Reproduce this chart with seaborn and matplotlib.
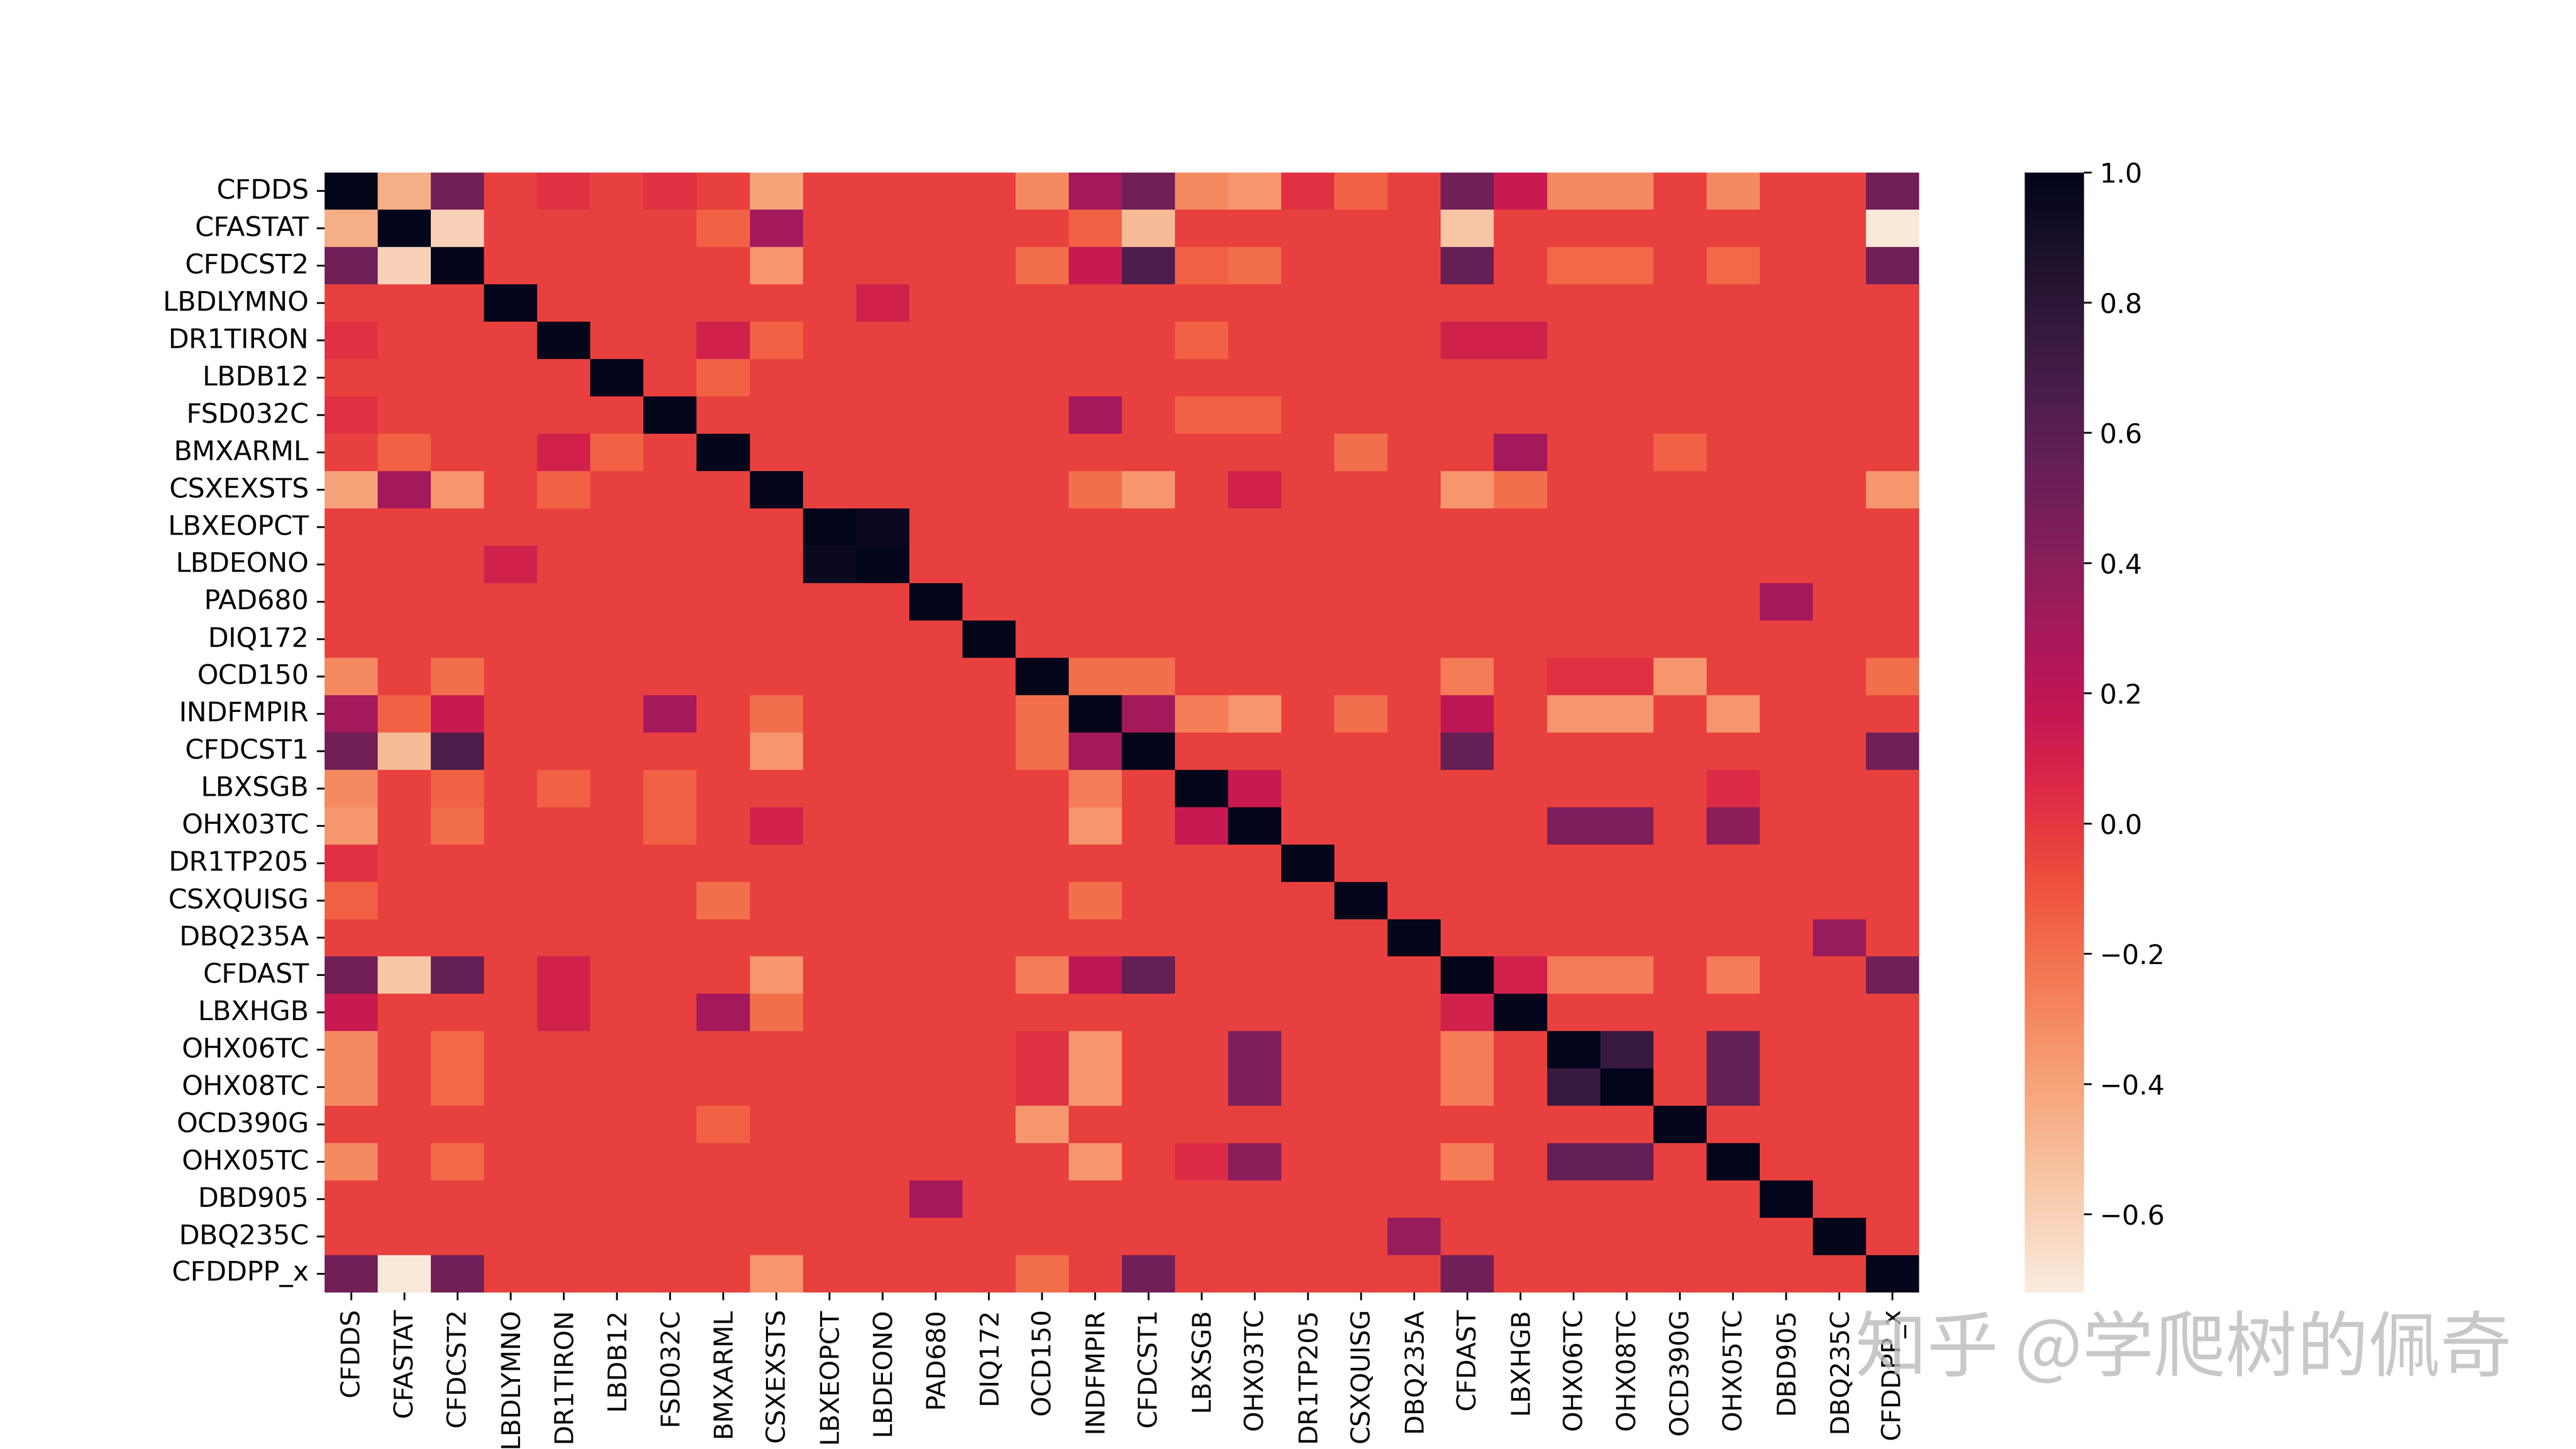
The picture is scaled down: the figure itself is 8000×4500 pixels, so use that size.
import numpy as np
import pandas as pd
import matplotlib
matplotlib.use("Agg")
import matplotlib.pyplot as plt
import seaborn as sns

labels = ["CFDDS","CFASTAT","CFDCST2","LBDLYMNO","DR1TIRON","LBDB12","FSD032C","BMXARML",
          "CSXEXSTS","LBXEOPCT","LBDEONO","PAD680","DIQ172","OCD150","INDFMPIR","CFDCST1",
          "LBXSGB","OHX03TC","DR1TP205","CSXQUISG","DBQ235A","CFDAST","LBXHGB","OHX06TC",
          "OHX08TC","OCD390G","OHX05TC","DBD905","DBQ235C","CFDDPP_x"]

default_corr = -0.04
pairs = [
    ("CFDDS","CFASTAT",-0.45),("CFDDS","CFDCST2",0.5),("CFDDS","CSXEXSTS",-0.4),
    ("CFDDS","INDFMPIR",0.3),("CFDDS","CFDCST1",0.5),("CFDDS","CFDAST",0.5),
    ("CFDDS","CFDDPP_x",0.5),("CFDDS","LBXHGB",0.15),("CFDDS","OCD150",-0.3),
    ("CFDDS","LBXSGB",-0.3),("CFDDS","OHX03TC",-0.35),("CFDDS","OHX06TC",-0.3),
    ("CFDDS","OHX08TC",-0.3),("CFDDS","OHX05TC",-0.3),("CFDDS","CSXQUISG",-0.15),
    ("CFDDS","DR1TIRON",0.02),("CFDDS","FSD032C",0.02),("CFDDS","DR1TP205",0.02),
    ("CFASTAT","CFDCST2",-0.6),("CFASTAT","CSXEXSTS",0.3),("CFASTAT","CFDCST1",-0.5),
    ("CFASTAT","CFDAST",-0.55),("CFASTAT","CFDDPP_x",-0.7),("CFASTAT","INDFMPIR",-0.15),
    ("CFASTAT","BMXARML",-0.15),
    ("CFDCST2","CSXEXSTS",-0.35),("CFDCST2","CFDCST1",0.65),("CFDCST2","CFDAST",0.55),
    ("CFDCST2","CFDDPP_x",0.5),("CFDCST2","INDFMPIR",0.15),("CFDCST2","OCD150",-0.2),
    ("CFDCST2","LBXSGB",-0.15),("CFDCST2","OHX03TC",-0.2),("CFDCST2","OHX06TC",-0.18),
    ("CFDCST2","OHX08TC",-0.18),("CFDCST2","OHX05TC",-0.18),
    ("LBDLYMNO","LBDEONO",0.1),
    ("DR1TIRON","BMXARML",0.1),("DR1TIRON","CFDAST",0.1),("DR1TIRON","LBXHGB",0.1),
    ("DR1TIRON","CSXEXSTS",-0.15),("DR1TIRON","LBXSGB",-0.15),
    ("FSD032C","INDFMPIR",0.3),("FSD032C","OHX03TC",-0.15),("FSD032C","LBXSGB",-0.15),
    ("BMXARML","LBXHGB",0.3),("BMXARML","CSXQUISG",-0.2),("BMXARML","LBDB12",-0.15),
    ("BMXARML","OCD390G",-0.15),
    ("CSXEXSTS","CFDCST1",-0.35),("CSXEXSTS","CFDAST",-0.35),("CSXEXSTS","CFDDPP_x",-0.35),
    ("CSXEXSTS","INDFMPIR",-0.2),("CSXEXSTS","OHX03TC",0.1),("CSXEXSTS","LBXHGB",-0.2),
    ("LBXEOPCT","LBDEONO",0.95),
    ("PAD680","DBD905",0.3),
    ("OCD150","INDFMPIR",-0.2),("OCD150","CFDCST1",-0.2),("OCD150","OCD390G",-0.35),
    ("OCD150","CFDAST",-0.25),("OCD150","CFDDPP_x",-0.2),
    ("INDFMPIR","CFDCST1",0.3),("INDFMPIR","CFDAST",0.2),("INDFMPIR","OHX03TC",-0.35),
    ("INDFMPIR","OHX06TC",-0.35),("INDFMPIR","OHX08TC",-0.35),("INDFMPIR","OHX05TC",-0.35),
    ("INDFMPIR","LBXSGB",-0.25),("INDFMPIR","CSXQUISG",-0.2),
    ("CFDCST1","CFDAST",0.55),("CFDCST1","CFDDPP_x",0.5),
    ("LBXSGB","OHX03TC",0.15),
    ("OHX03TC","OHX06TC",0.45),("OHX03TC","OHX08TC",0.45),("OHX03TC","OHX05TC",0.4),
    ("DBQ235A","DBQ235C",0.35),
    ("CFDAST","CFDDPP_x",0.5),("CFDAST","LBXHGB",0.1),("CFDAST","OHX06TC",-0.25),
    ("CFDAST","OHX08TC",-0.25),("CFDAST","OHX05TC",-0.25),
    ("OHX06TC","OHX08TC",0.75),("OHX06TC","OHX05TC",0.55),("OHX08TC","OHX05TC",0.55),
    ("OHX06TC","OCD150",0.02),("OHX08TC","OCD150",0.02),("OHX05TC","LBXSGB",0.05),
]

n = len(labels)
idx = {l: i for i, l in enumerate(labels)}
mat = np.full((n, n), default_corr)
np.fill_diagonal(mat, 1.0)
for a, b, v in pairs:
    mat[idx[a], idx[b]] = v
    mat[idx[b], idx[a]] = v
df = pd.DataFrame(mat, index=labels, columns=labels)

fig = plt.figure(figsize=(16, 9), dpi=500)
ax = fig.add_axes([0.126, 0.108, 0.619, 0.773])
cax = fig.add_axes([0.786, 0.108, 0.023, 0.773])
sns.heatmap(df, ax=ax, cbar_ax=cax, cmap="rocket_r", vmin=-0.72, vmax=1.0)
ax.set_xticks(np.arange(n) + 0.5)
ax.set_xticklabels(labels, rotation=90, fontsize=11.5)
ax.set_yticks(np.arange(n) + 0.5)
ax.set_yticklabels(labels, rotation=0, fontsize=12)
cax.tick_params(labelsize=12)
fig.text(0.975, 0.068, "知乎 @学爬树的佩奇", ha="right", va="center", fontsize=32,
         color="#bbbbbb", alpha=0.8, family=["Noto Sans CJK SC", "DejaVu Sans"])
fig.savefig("out.png", dpi=500)
